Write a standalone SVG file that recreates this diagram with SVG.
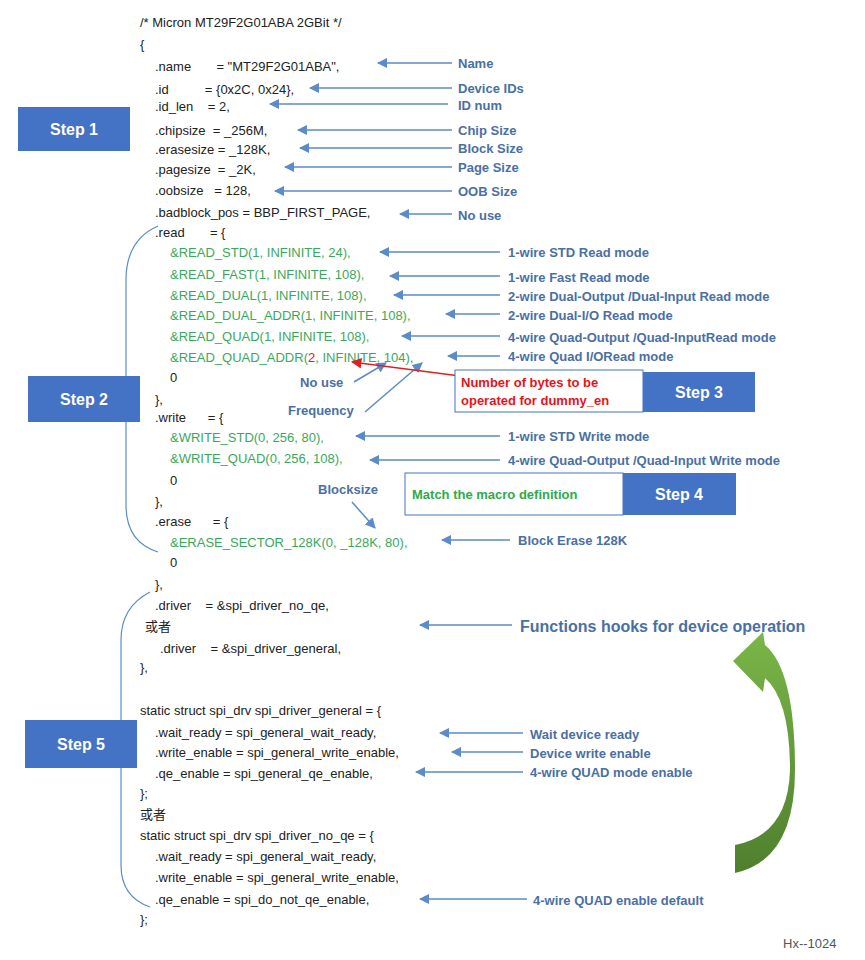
<svg xmlns="http://www.w3.org/2000/svg" width="865" height="960" viewBox="0 0 865 960">
<defs>
<style>
.c{font-family:"Liberation Sans",Arial,sans-serif;font-size:13px;fill:#222;white-space:pre}
.g{fill:#3aa85c}
.l{font-family:"Liberation Sans",Arial,sans-serif;font-size:13px;font-weight:bold;fill:#4a6fa5}
.s{font-family:"Liberation Sans",Arial,sans-serif;font-size:16px;font-weight:bold;fill:#fff;text-anchor:middle}
.a{stroke:#5b8bc9;stroke-width:1.5;fill:none;marker-end:url(#ah)}
.sb{fill:#4472c4}
</style>
<marker id="ah" viewBox="0 0 10 10" refX="9" refY="5" markerWidth="7" markerHeight="7" orient="auto"><path d="M0,0L10,5L0,10z" fill="#5b8bc9"/></marker>
<marker id="ar" viewBox="0 0 10 10" refX="9" refY="5" markerWidth="7" markerHeight="7" orient="auto"><path d="M0,0L10,5L0,10z" fill="#e02020"/></marker>
<linearGradient id="gg" x1="0" y1="0" x2="0" y2="1"><stop offset="0" stop-color="#7ab648"/><stop offset="1" stop-color="#4f7f2e"/></linearGradient>
</defs>
<rect width="865" height="960" fill="#fff"/>
<g id="code" xml:space="preserve">
<text class="c" x="140" y="27">/* Micron MT29F2G01ABA 2GBit */</text>
<text class="c" x="140" y="49">{</text>
<text class="c" x="155" y="71">.name       = "MT29F2G01ABA",</text>
<text class="c" x="155" y="94">.id          = {0x2C, 0x24},</text>
<text class="c" x="155" y="111">.id_len    = 2,</text>
<text class="c" x="155" y="135">.chipsize  = _256M,</text>
<text class="c" x="155" y="154">.erasesize = _128K,</text>
<text class="c" x="155" y="174">.pagesize  = _2K,</text>
<text class="c" x="155" y="195">.oobsize   = 128,</text>
<text class="c" x="155" y="217">.badblock_pos = BBP_FIRST_PAGE,</text>
<text class="c" x="155" y="237">.read       = {</text>
<text class="c g" x="170" y="257">&amp;READ_STD(1, INFINITE, 24),</text>
<text class="c g" x="170" y="279">&amp;READ_FAST(1, INFINITE, 108),</text>
<text class="c g" x="170" y="300">&amp;READ_DUAL(1, INFINITE, 108),</text>
<text class="c g" x="170" y="320">&amp;READ_DUAL_ADDR(1, INFINITE, 108),</text>
<text class="c g" x="170" y="341">&amp;READ_QUAD(1, INFINITE, 108),</text>
<text class="c g" x="170" y="362">&amp;READ_QUAD_ADDR(<tspan fill="#e02020">2</tspan>, INFINITE, 104),</text>
<text class="c" x="170" y="382">0</text>
<text class="c" x="155" y="404">},</text>
<text class="c" x="155" y="422">.write      = {</text>
<text class="c g" x="170" y="442">&amp;WRITE_STD(0, 256, 80),</text>
<text class="c g" x="170" y="463">&amp;WRITE_QUAD(0, 256, 108),</text>
<text class="c" x="170" y="485">0</text>
<text class="c" x="155" y="506">},</text>
<text class="c" x="155" y="526">.erase      = {</text>
<text class="c g" x="170" y="547">&amp;ERASE_SECTOR_128K(0, _128K, 80),</text>
<text class="c" x="170" y="567">0</text>
<text class="c" x="155" y="589">},</text>
<text class="c" x="155" y="610">.driver    = &amp;spi_driver_no_qe,</text>
<text class="c" x="145" y="631" style="font-family:'Liberation Sans','Noto Sans CJK SC',sans-serif">或者</text>
<text class="c" x="160" y="653">.driver    = &amp;spi_driver_general,</text>
<text class="c" x="140" y="672">},</text>
<text class="c" x="140" y="715">static struct spi_drv spi_driver_general = {</text>
<text class="c" x="155" y="737">.wait_ready = spi_general_wait_ready,</text>
<text class="c" x="155" y="757">.write_enable = spi_general_write_enable,</text>
<text class="c" x="155" y="778">.qe_enable = spi_general_qe_enable,</text>
<text class="c" x="140" y="798">};</text>
<text class="c" x="140" y="819" style="font-family:'Liberation Sans','Noto Sans CJK SC',sans-serif">或者</text>
<text class="c" x="140" y="840">static struct spi_drv spi_driver_no_qe = {</text>
<text class="c" x="155" y="861">.wait_ready = spi_general_wait_ready,</text>
<text class="c" x="155" y="882">.write_enable = spi_general_write_enable,</text>
<text class="c" x="155" y="904">.qe_enable = spi_do_not_qe_enable,</text>
<text class="c" x="140" y="924">};</text>
</g>
<g id="labels">
<text class="l" x="458" y="68">Name</text>
<text class="l" x="458" y="93">Device IDs</text>
<text class="l" x="458" y="110">ID num</text>
<text class="l" x="458" y="135">Chip Size</text>
<text class="l" x="458" y="153">Block Size</text>
<text class="l" x="458" y="172">Page Size</text>
<text class="l" x="458" y="196">OOB Size</text>
<text class="l" x="458" y="220">No use</text>
<text class="l" x="508" y="257">1-wire STD Read mode</text>
<text class="l" x="508" y="282">1-wire Fast Read mode</text>
<text class="l" x="508" y="301">2-wire Dual-Output /Dual-Input Read mode</text>
<text class="l" x="508" y="320">2-wire Dual-I/O Read mode</text>
<text class="l" x="508" y="342">4-wire Quad-Output /Quad-InputRead mode</text>
<text class="l" x="508" y="361">4-wire Quad I/ORead mode</text>
<text class="l" x="300" y="387">No use</text>
<text class="l" x="288" y="415">Frequency</text>
<text class="l" x="508" y="441">1-wire STD Write mode</text>
<text class="l" x="508" y="465">4-wire Quad-Output /Quad-Input Write mode</text>
<text class="l" x="318" y="494">Blocksize</text>
<text class="l" x="518" y="545">Block Erase 128K</text>
<text class="l" x="520" y="632" style="font-size:16px">Functions hooks for device operation</text>
<text class="l" x="530" y="739">Wait device ready</text>
<text class="l" x="530" y="758">Device write enable</text>
<text class="l" x="530" y="777">4-wire QUAD mode enable</text>
<text class="l" x="533" y="905">4-wire QUAD enable default</text>
<text x="783" y="948" style="font-family:'Liberation Sans',Arial,sans-serif;font-size:13px;fill:#555">Hx--1024</text>
</g>
<g id="connectors">
<path class="a" d="M452,63H378"/>
<path class="a" d="M452,88H310"/>
<path class="a" d="M448,104H270"/>
<path class="a" d="M452,130H298"/>
<path class="a" d="M452,148H300"/>
<path class="a" d="M452,167H285"/>
<path class="a" d="M452,191H275"/>
<path class="a" d="M452,214H400"/>
<path class="a" d="M500,252H380"/>
<path class="a" d="M500,276H390"/>
<path class="a" d="M500,295H394"/>
<path class="a" d="M500,314H446"/>
<path class="a" d="M500,336H402"/>
<path class="a" d="M500,356H448"/>
<path class="a" d="M354,382L386,363"/>
<path class="a" d="M365,412L422,363"/>
<path class="a" d="M500,436H356"/>
<path class="a" d="M500,460H370"/>
<path class="a" d="M352,502L375,528"/>
<path class="a" d="M510,540H442"/>
<path class="a" d="M512,625H420"/>
<path class="a" d="M523,733H440"/>
<path class="a" d="M523,752H452"/>
<path class="a" d="M523,772H416"/>
<path class="a" d="M527,899H420"/>
<path d="M460,376L352,362" stroke="#e02020" stroke-width="1.5" fill="none" marker-end="url(#ar)"/>
<path d="M158,226Q126,240 126,280V505Q126,542 158,552" stroke="#5b8bc9" stroke-width="1.2" fill="none"/>
<path d="M150,592Q121,607 121,640V865Q121,897 150,907" stroke="#5b8bc9" stroke-width="1.2" fill="none"/>
<path d="M763,632L733,661L763,692L765,678Q790,700 790,770Q788,835 735,845L735,873Q795,860 795,770Q795,670 765,645Z" fill="url(#gg)"/>
</g>
<g id="step1"><rect class="sb" x="18" y="107" width="112" height="44"/><text class="s" x="74" y="135">Step 1</text></g>
<g id="step2"><rect class="sb" x="28" y="376" width="112" height="46"/><text class="s" x="84" y="405">Step 2</text></g>
<g id="step3"><rect class="sb" x="643" y="372" width="112" height="40"/><text class="s" x="699" y="398">Step 3</text></g>
<g id="step4"><rect class="sb" x="622" y="473" width="114" height="42"/><text class="s" x="679" y="500">Step 4</text></g>
<g id="step5"><rect class="sb" x="25" y="720" width="112" height="48"/><text class="s" x="81" y="750">Step 5</text></g>
<g id="note-dummy"><rect x="455" y="370" width="188" height="42" fill="#fff" stroke="#4472c4"/>
<text class="l" x="461" y="387" style="fill:#e8131a">Number of bytes to be</text>
<text class="l" x="461" y="405" style="fill:#e8131a">operated for dummy_en</text></g>
<g id="note-macro"><rect x="405" y="473" width="218" height="42" fill="#fff" stroke="#4472c4"/>
<text class="l" x="412" y="499" style="fill:#2eaa4a">Match the macro definition</text></g>
</svg>
